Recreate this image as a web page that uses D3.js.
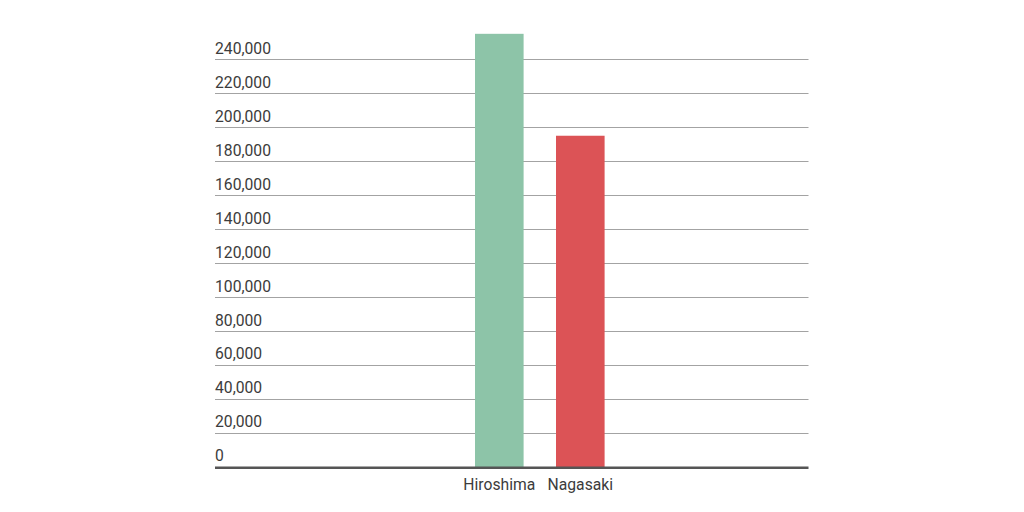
<!DOCTYPE html>
<html><head><meta charset="utf-8">
<script src="https://cdn.jsdelivr.net/npm/d3@7"></script>
<style>body{margin:0;background:#fff}text{font-family:Roboto,sans-serif}</style>
</head><body><svg id="c" width="1024" height="512"></svg>
<script>
const categories = ["Hiroshima", "Nagasaki"];
const values = [255000, 195000];
const colors = ["#8dc4a8", "#dc5356"];
const tickValues = [0,20000,40000,60000,80000,100000,120000,140000,160000,180000,200000,220000,240000];

const svg = d3.select("#c");
const y = d3.scaleLinear().domain([0, 240000]).range([467, 59.3]);
const x = d3.scaleBand().domain(categories).range([458.8, 620.8]).paddingInner(0.4).paddingOuter(0.2);
const left = 215, right = 808.5;

const fmt = d3.format(",");
const g = svg.append("g");
tickValues.forEach(t => {
  if (t !== 0) {
    g.append("line").attr("x1", left).attr("x2", right)
      .attr("y1", Math.round(y(t)) + 0.5).attr("y2", Math.round(y(t)) + 0.5)
      .attr("stroke", "#a3a3a3").attr("stroke-width", 1);
  }
  g.append("text").attr("x", left).attr("y", y(t) - 5.6)
    .attr("font-size", "15.7px").attr("fill", "#3c3c3c").text(fmt(t));
});

svg.append("g").selectAll("rect").data(categories).join("rect")
  .attr("x", d => x(d)).attr("width", x.bandwidth())
  .attr("y", (d, i) => y(values[i])).attr("height", (d, i) => y(0) - y(values[i]))
  .attr("fill", (d, i) => colors[i]);

svg.append("line").attr("x1", left).attr("x2", right)
  .attr("y1", y(0) + 0.8).attr("y2", y(0) + 0.8)
  .attr("stroke", "#555").attr("stroke-width", 2.4);

svg.append("g").selectAll("text.xl").data(categories).join("text")
  .attr("class", "xl")
  .attr("x", d => x(d) + x.bandwidth() / 2).attr("y", 490)
  .attr("text-anchor", "middle").attr("font-size", "15.7px").attr("fill", "#3c3c3c")
  .text(d => d);
</script></body></html>
